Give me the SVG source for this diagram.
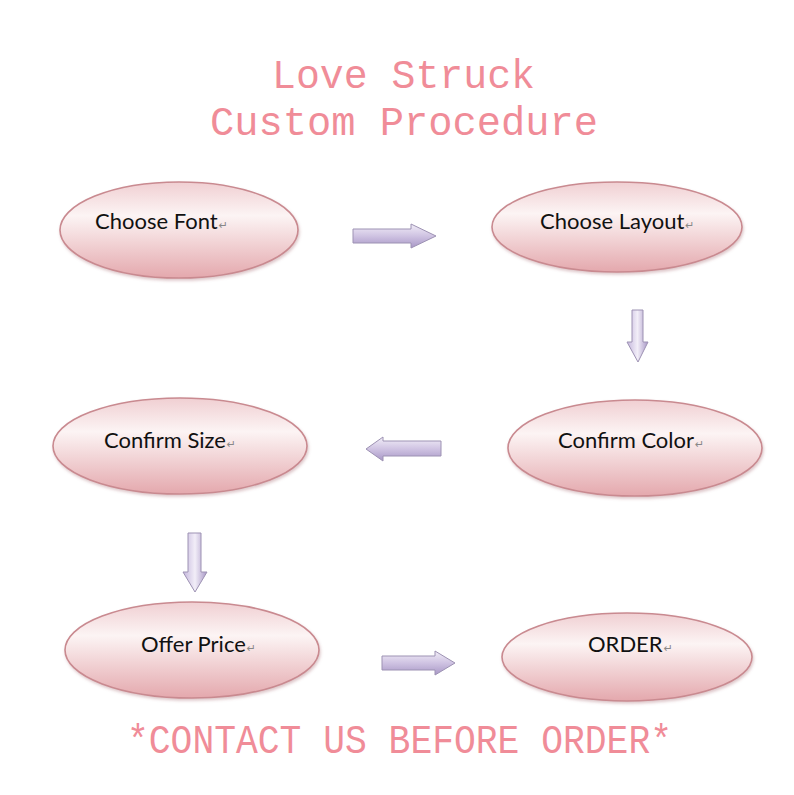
<svg xmlns="http://www.w3.org/2000/svg" width="794" height="795" viewBox="0 0 794 795">
<defs>
<linearGradient id="gEl" x1="0" y1="0" x2="0" y2="1">
<stop offset="0" stop-color="#f0cfd2"/>
<stop offset="0.35" stop-color="#fcf4f4"/>
<stop offset="1" stop-color="#e4a8ad"/>
</linearGradient>
<linearGradient id="gArH" x1="0" y1="0" x2="0" y2="1">
<stop offset="0" stop-color="#f2eef8"/>
<stop offset="0.5" stop-color="#cfc3e2"/>
<stop offset="1" stop-color="#a897c6"/>
</linearGradient>
<linearGradient id="gArV" x1="0" y1="0" x2="1" y2="0">
<stop offset="0" stop-color="#c4b6dc"/>
<stop offset="0.5" stop-color="#f2eef8"/>
<stop offset="1" stop-color="#a897c6"/>
</linearGradient>
<filter id="sh" x="-10%" y="-10%" width="120%" height="130%">
<feDropShadow dx="1" dy="2" stdDeviation="1.5" flood-color="#a06068" flood-opacity="0.35"/>
</filter>
</defs>
<style>
.el{fill:url(#gEl);stroke:#c98a90;stroke-width:1.6;filter:url(#sh)}
.lb{font-family:Lato,"Open Sans","Liberation Sans",sans-serif;font-size:22px;fill:#111}
.pm{font-family:"DejaVu Sans",sans-serif;font-size:11px;fill:#888}
.ttl{font-family:"Liberation Mono","DejaVu Sans Mono",monospace;fill:#f08c98}
.ah{fill:url(#gArH);stroke:#9d92b3;stroke-width:1}
.av{fill:url(#gArV);stroke:#9d92b3;stroke-width:1}
</style>
<rect width="794" height="795" fill="#ffffff"/>
<g id="title">
<text class="ttl" x="272" y="88" font-size="40" textLength="263" lengthAdjust="spacingAndGlyphs">Love Struck</text>
<text class="ttl" x="210" y="135" font-size="40" textLength="388" lengthAdjust="spacingAndGlyphs">Custom Procedure</text>
</g>
<g id="node-choose-font">
<ellipse class="el" cx="179" cy="230" rx="119" ry="48"/>
<text class="lb" x="95" y="229">Choose Font<tspan class="pm" dx="1">↵</tspan></text>
</g>
<g id="node-choose-layout">
<ellipse class="el" cx="617" cy="227" rx="125" ry="45"/>
<text class="lb" x="540" y="229">Choose Layout<tspan class="pm" dx="1">↵</tspan></text>
</g>
<g id="node-confirm-color">
<ellipse class="el" cx="635" cy="448" rx="127" ry="48"/>
<text class="lb" x="558" y="448">Confirm Color<tspan class="pm" dx="1">↵</tspan></text>
</g>
<g id="node-confirm-size">
<ellipse class="el" cx="180" cy="446" rx="127" ry="48"/>
<text class="lb" x="104" y="448">Confirm Size<tspan class="pm" dx="1">↵</tspan></text>
</g>
<g id="node-offer-price">
<ellipse class="el" cx="192" cy="650" rx="127" ry="48"/>
<text class="lb" x="141" y="652">Offer Price<tspan class="pm" dx="1">↵</tspan></text>
</g>
<g id="node-order">
<ellipse class="el" cx="627" cy="657" rx="125" ry="44"/>
<text class="lb" x="588" y="652">ORDER<tspan class="pm" dx="1">↵</tspan></text>
</g>
<g id="connectors">
<path class="ah" d="M353,229 H411 V224 L436,236 L411,248 V243 H353 Z"/>
<path class="av" d="M632,310 H643 V342 H648 L638,362 L627,342 H632 Z"/>
<path class="ah" d="M441,441 H383 V437 L366,449 L383,461 V456 H441 Z"/>
<path class="av" d="M188,533 H201 V572 H207 L195,592 L183,572 H188 Z"/>
<path class="ah" d="M382,656 H435 V651 L455,663 L435,675 V670 H382 Z"/>
</g>
<g id="footer">
<text class="ttl" x="127" y="753" font-size="40" textLength="545" lengthAdjust="spacingAndGlyphs">*CONTACT US BEFORE ORDER*</text>
</g>
</svg>
